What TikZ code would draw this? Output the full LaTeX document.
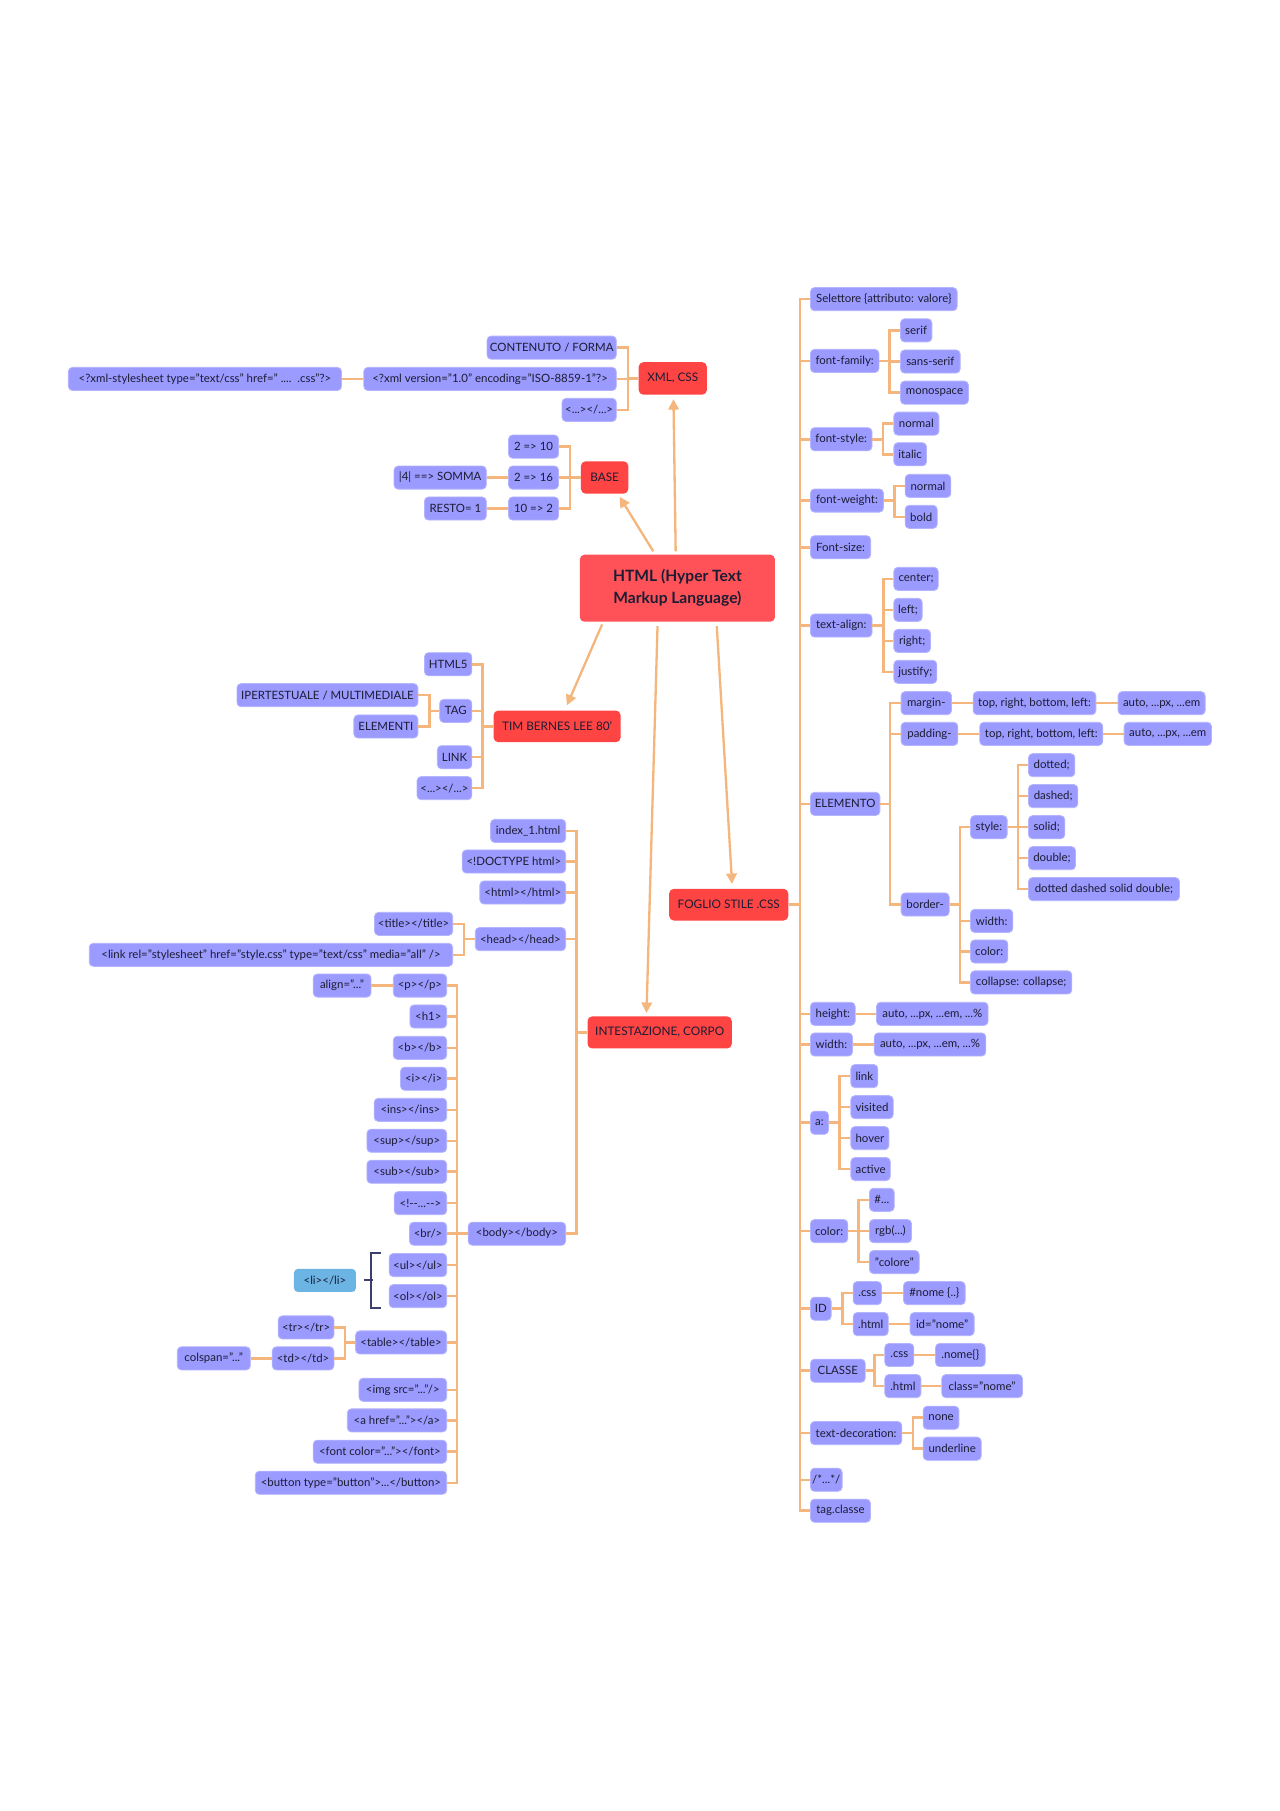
\documentclass[tikz,border=0pt]{standalone}
\usepackage{fontspec}
\setmainfont{Lato}
\usetikzlibrary{arrows.meta}
\definecolor{bfill}{HTML}{9A9AFF}
\definecolor{bdraw}{HTML}{B4B4FF}
\definecolor{rfill}{HTML}{FF4444}
\definecolor{hfill}{HTML}{FF5258}
\definecolor{orng}{HTML}{F4B67C}
\definecolor{lifill}{HTML}{6CB4E4}
\definecolor{navy}{HTML}{3B3F6E}
\definecolor{txt}{HTML}{1C1C33}
\tikzset{
 bnode/.style={rectangle, rounded corners=3.5pt, fill=bfill, draw=bdraw, line width=0.7pt, minimum height=20pt, inner xsep=0pt, inner ysep=0pt, text=txt, font=\fontsize{9.9}{11}\selectfont},
 rnode/.style={rectangle, rounded corners=4pt, fill=rfill, draw=none, inner sep=0pt, text=txt, font=\fontsize{10.2}{12}\selectfont},
 conn/.style={draw=orng, line width=2.2pt},
 arr/.style={draw=orng, line width=2pt, -{Triangle[length=9pt,width=9pt]}},
 navyline/.style={draw=navy, line width=1.8pt},
}
\newcommand\bn[5]{\node[bnode, minimum width={#3-#2}] (#1) at ({(#2+#3)/2},#4) {#5};}
\newcommand\rn[6]{\node[rnode, minimum width={#3-#2}, minimum height={#5-#4}] (#1) at ({(#2+#3)/2},{(#4+#5)/2}) {#6};}
\newcommand\treeL[3]{\foreach \ch in {#3} {\draw[conn] (#1.west) -- ++(-#2,0) |- (\ch.east);}}
\newcommand\treeR[3]{\foreach \ch in {#3} {\draw[conn] (#1.east) -- ++(#2,0) |- (\ch.west);}}
\begin{document}
\begin{tikzpicture}[x=1pt,y=-1pt]
\useasboundingbox[fill=white] (0,0) rectangle (1108,1568);

% main nodes
\node[rnode, fill=hfill, minimum width=169, minimum height=58, align=center, font=\fontsize{13.5}{19}\selectfont\bfseries] (html) at (586.5,509.3) {HTML (Hyper Text\\Markup Language)};
\rn{xml}{553}{612}{313.6}{341.7}{XML, CSS}
\rn{base}{503}{544}{399.4}{427.4}{BASE}
\rn{tim}{427.4}{537.3}{615.2}{642.6}{TIM BERNES LEE 80'}
\rn{foglio}{579.4}{682.5}{769.6}{797}{FOGLIO STILE .CSS}
\rn{intest}{508.7}{633.6}{880}{907.8}{INTESTAZIONE, CORPO}

% arrows
\draw[arr] ([xshift=-1.5,yshift=2.8]html.north) -- ([xshift=0.6,yshift=-3.7]xml.south);
\draw[arr] ([xshift=-20.9,yshift=2.8]html.north) -- ([xshift=13,yshift=-2.6]base.south);
\draw[arr] ([xshift=-65.2,yshift=-2.2]html.south) -- ([xshift=8.5,yshift=4.3]tim.north);
\draw[arr] ([xshift=-17.2,yshift=-3.7]html.south) -- ([xshift=-11.4,yshift=2.8]intest.north);
\draw[arr] ([xshift=34.1,yshift=-3.7]html.south) -- ([xshift=2.9,yshift=4.1]foglio.north);

% XML tree
\bn{contenuto}{421.7}{533.6}{301}{CONTENUTO / FORMA}
\bn{xmlver}{315}{533.6}{328.1}{<?xml version="1.0" encoding="ISO-8859-1"?>}
\bn{xmltag}{486.6}{533.6}{354.9}{<...></...>}
\bn{xmlsty}{59.2}{295.7}{328.1}{<?xml-stylesheet type="text/css" href=" ....\ \ .css"?>}
\treeL{xml}{9.1}{contenuto,xmlver,xmltag}
\draw[conn] (xmlver.west) -- (xmlsty.east);

% BASE tree
\bn{b210}{440.3}{483.6}{386.7}{2 => 10}
\bn{b216}{440.3}{483.6}{413.5}{2 => 16}
\bn{b102}{440.3}{483.6}{440.3}{10 => 2}
\bn{somma}{341.2}{421}{413.5}{|4| ==> SOMMA}
\bn{resto}{367.5}{421}{440.3}{RESTO= 1}
\treeL{base}{9.1}{b210,b216,b102}
\draw[conn] (b216.west) -- (somma.east);
\draw[conn] (b102.west) -- (resto.east);

% TIM tree
\bn{html5}{367.5}{408.5}{575.1}{HTML5}
\bn{tag}{380.7}{408.5}{615.5}{TAG}
\bn{tlink}{378.7}{408.5}{655.6}{LINK}
\bn{timtag}{361.1}{408.5}{682.4}{<...></...>}
\bn{iper}{205.2}{361.8}{601.9}{IPERTESTUALE / MULTIMEDIALE}
\bn{elementi}{306.4}{361.8}{629}{ELEMENTI}
\treeL{tim}{9.3}{html5,tag,tlink,timtag}
\treeL{tag}{8.7}{iper,elementi}

% INTESTAZIONE tree
\bn{index}{424.8}{489.7}{719.4}{index\_1.html}
\bn{doctype}{400.2}{489.7}{745.9}{<!DOCTYPE html>}
\bn{htmltag}{415.5}{489.7}{772.7}{<html></html>}
\bn{head}{411.5}{489.7}{813.1}{<head></head>}
\bn{body}{405.4}{489.7}{1068.2}{<body></body>}
\treeL{intest}{9.5}{index,doctype,htmltag,head,body}

\bn{title}{324.3}{391.9}{799.9}{<title></title>}
\bn{linkrel}{77.3}{391.9}{826.7}{<link rel="stylesheet" href="style.css" type="text/css" media="all" />}
\treeL{head}{9.5}{title,linkrel}

\bn{tp}{340.5}{386.7}{853.3}{<p></p>}
\bn{th1}{354.9}{386.7}{880.1}{<h1>}
\bn{tb}{340.5}{386.7}{907.2}{<b></b>}
\bn{ti}{346.8}{386.7}{934}{<i></i>}
\bn{tins}{324}{386.7}{960.9}{<ins></ins>}
\bn{tsup}{317.7}{386.7}{987.7}{<sup></sup>}
\bn{tsub}{317.7}{386.7}{1014.5}{<sub></sub>}
\bn{tcom}{341.3}{386.7}{1041.7}{<!-{}-...-{}->}
\bn{tbr}{354.6}{386.7}{1068.2}{<br/>}
\bn{tul}{337}{386.7}{1095.3}{<ul></ul>}
\bn{tol}{337}{386.7}{1122.2}{<ol></ol>}
\bn{ttable}{307.9}{386.7}{1162.3}{<table></table>}
\bn{timg}{310.8}{386.7}{1203.3}{<img src="..."/>}
\bn{tahref}{300.7}{386.7}{1229.8}{<a href="..."></a>}
\bn{tfont}{271.2}{386.7}{1256.9}{<font color="..."></font>}
\bn{tbutton}{221}{386.7}{1283.8}{<button type="button">...</button>}
\bn{align}{271.2}{321.2}{853.3}{align="..."}
\treeL{body}{9.2}{tp,th1,tb,ti,tins,tsup,tsub,tcom,tbr,tul,tol,ttable,timg,tahref,tfont,tbutton}
\draw[conn] (tp.west) -- (align.east);

\node[bnode, fill=lifill, draw=none, minimum width=53.7] (li) at (281.35,1108.6) {<li></li>};
\draw[navyline] ([xshift=-7.2]tul.north west) -- ([xshift=-15.3]tul.north west) -- ([xshift=-15.3]tol.south west) -- ([xshift=-7.2]tol.south west);
\draw[navyline] ([xshift=6.3]li.east) -- ([xshift=14.3]li.east);

\bn{ttr}{240.9}{289.1}{1149.3}{<tr></tr>}
\bn{ttd}{235.7}{289.1}{1176.1}{<td></td>}
\bn{colspan}{153.5}{216.7}{1176.1}{colspan="..."}
\treeL{ttable}{8.9}{ttr,ttd}
\draw[conn] (ttd.west) -- (colspan.east);

% FOGLIO tree
\bn{sel}{701.7}{828.7}{259}{Selettore \{attributo: valore\}}
\bn{ffam}{701.7}{761}{312.5}{font-family:}
\bn{fstyle}{701.7}{755}{380.3}{font-style:}
\bn{fweight}{701.7}{764.9}{433.4}{font-weight:}
\bn{fsize}{701.7}{753.8}{473.8}{Font-size:}
\bn{talign}{701.7}{755}{541.6}{text-align:}
\bn{elem}{701.7}{761.8}{696}{ELEMENTO}
\bn{cheight}{701.7}{740.4}{877.8}{height:}
\bn{cwidth}{701.7}{738.1}{904.3}{width:}
\bn{ca}{701.7}{717.3}{972.1}{a:}
\bn{ccolor}{701.7}{734}{1065.9}{color:}
\bn{cid}{701.7}{719.6}{1133.1}{ID}
\bn{classe}{701.7}{749.1}{1186.8}{CLASSE}
\bn{tdec}{701.7}{780.8}{1240.8}{text-decoration:}
\bn{ccomm}{701.7}{729.1}{1281.2}{/*...*/}
\bn{tagc}{701.7}{753.6}{1308}{tag.classe}
\treeR{foglio}{10}{sel,ffam,fstyle,fweight,fsize,talign,elem,cheight,cwidth,ca,ccolor,cid,classe,tdec,ccomm,tagc}

\bn{serif}{779.7}{806.8}{286}{serif}
\bn{sans}{779.7}{831.3}{313}{sans-serif}
\bn{mono}{779.7}{838.5}{340}{monospace}
\treeR{ffam}{8.8}{serif,sans,mono}

\bn{fsnormal}{773.9}{812.9}{366.8}{normal}
\bn{italic}{773.9}{802.2}{393.3}{italic}
\treeR{fstyle}{9}{fsnormal,italic}

\bn{fwnormal}{783.7}{823.2}{420.7}{normal}
\bn{bold}{783.7}{811.4}{447.5}{bold}
\treeR{fweight}{9.3}{fwnormal,bold}

\bn{ta1}{773.9}{812.3}{501.2}{center;}
\bn{ta2}{773.9}{798.4}{528}{left;}
\bn{ta3}{773.9}{805.6}{554.9}{right;}
\bn{ta4}{773.9}{811.1}{581.7}{justify;}
\treeR{talign}{9.4}{ta1,ta2,ta3,ta4}

\bn{margin}{780.2}{823.8}{608.8}{margin-}
\bn{padding}{780.2}{829.3}{635.4}{padding-}
\bn{border}{780.2}{821.8}{783.1}{border-}
\treeR{elem}{8.6}{margin,padding,border}
\bn{mtrbl}{842.6}{948.8}{608.8}{top, right, bottom, left:}
\bn{mauto}{968.1}{1043.4}{608.8}{auto, ...px, ...em}
\bn{ptrbl}{848.3}{954.8}{635.4}{top, right, bottom, left:}
\bn{pauto}{973.3}{1048.9}{635.4}{auto, ...px, ...em}
\draw[conn] (margin.east) -- (mtrbl.west);
\draw[conn] (mtrbl.east) -- (mauto.west);
\draw[conn] (padding.east) -- (ptrbl.west);
\draw[conn] (ptrbl.east) -- (pauto.west);

\bn{bstyle}{840.3}{872}{716.2}{style:}
\bn{bwidth}{840.3}{876.9}{797.3}{width:}
\bn{bcolor}{840.3}{872.6}{823.8}{color:}
\bn{collapse}{840.3}{928}{850.6}{collapse: collapse;}
\treeR{border}{9.2}{bstyle,bwidth,bcolor,collapse}

\bn{dotted}{890.5}{930.6}{662.5}{dotted;}
\bn{dashed}{890.5}{933.2}{689.3}{dashed;}
\bn{solid}{890.5}{921.9}{716.2}{solid;}
\bn{double}{890.5}{931.2}{743}{double;}
\bn{dds}{890.5}{1021.2}{769.8}{dotted dashed solid double;}
\treeR{bstyle}{9.2}{dotted,dashed,solid,double,dds}

\bn{hval}{758.9}{855.5}{877.8}{auto, ...px, ...em, ...\%}
\bn{wval}{756.9}{853.5}{904.3}{auto, ...px, ...em, ...\%}
\draw[conn] (cheight.east) -- (hval.west);
\draw[conn] (cwidth.east) -- (wval.west);

\bn{alink}{736.7}{760}{931.7}{link}
\bn{visited}{736.7}{773.3}{958.6}{visited}
\bn{hover}{736.7}{769.6}{985.4}{hover}
\bn{active}{736.7}{770.8}{1012.2}{active}
\treeR{ca}{9.3}{alink,visited,hover,active}

\bn{hash}{752.8}{774.2}{1038.8}{\#...}
\bn{rgb}{752.8}{789.2}{1065.9}{rgb(...)}
\bn{colore}{752.8}{795.8}{1092.7}{"colore"}
\treeR{ccolor}{9}{hash,rgb,colore}

\bn{idcss}{738.7}{763.2}{1119.6}{.css}
\bn{idhtml}{738.7}{769}{1146.4}{.html}
\bn{nomeid}{782.3}{835.6}{1119.6}{\#nome \{..\}}
\bn{idnome}{788}{843.4}{1146.4}{id="nome"}
\treeR{cid}{9.3}{idcss,idhtml}
\draw[conn] (idcss.east) -- (nomeid.west);
\draw[conn] (idhtml.east) -- (idnome.west);

\bn{clcss}{766.1}{791.2}{1173.2}{.css}
\bn{clhtml}{766.1}{797.3}{1200.1}{.html}
\bn{nomecl}{810}{853}{1173.2}{.nome\{\}}
\bn{classnome}{815.4}{885.3}{1200.1}{class="nome"}
\treeR{classe}{7.5}{clcss,clhtml}
\draw[conn] (clcss.east) -- (nomecl.west);
\draw[conn] (clhtml.east) -- (classnome.west);

\bn{none}{799.3}{830.2}{1227.5}{none}
\bn{underline}{799.3}{849.5}{1254.3}{underline}
\treeR{tdec}{9.2}{none,underline}
\end{tikzpicture}
\end{document}
